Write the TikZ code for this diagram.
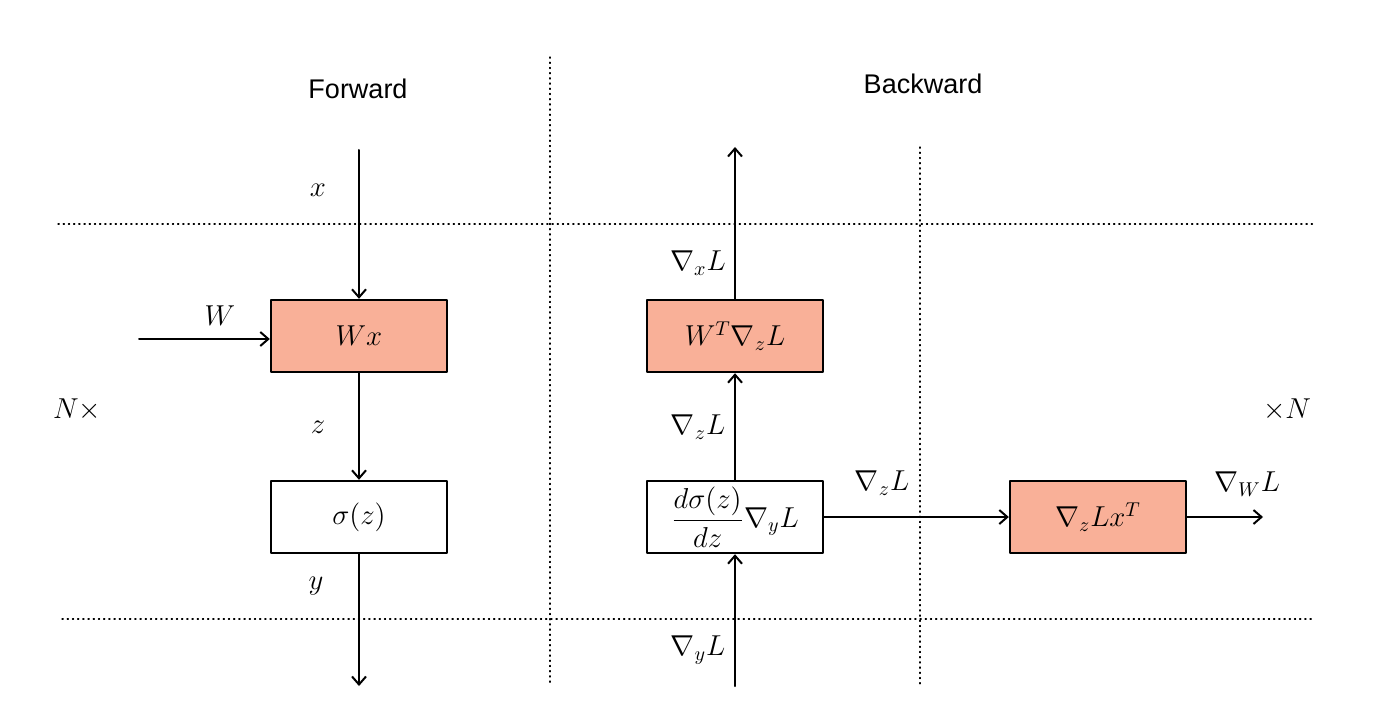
\documentclass[tikz,border=0pt]{standalone}
\usepackage{fontspec}
\newfontfamily\headfont{Liberation Sans}
\usetikzlibrary{arrows.meta}
\definecolor{boxSalmon}{HTML}{F9B098}
\definecolor{lineInk}{HTML}{000000}

\begin{document}
\begin{tikzpicture}[x=0.5pt,y=-0.5pt,>={Straight Barb[length=4pt,width=7pt]},line cap=round,line join=round]
\useasboundingbox[fill=white] (0,0) rectangle (1400,727);
\tikzset{wire/.style={draw=lineInk,line width=1pt},grid/.style={draw=lineInk,line width=0.6pt,dotted},lbl/.style={font=\fontsize{14}{17}\selectfont},box/.style={lbl,draw=lineInk,line width=1.2pt,minimum width=88pt,minimum height=36pt,inner sep=0pt},hot/.style={box,fill=boxSalmon},head/.style={font=\headfont\fontsize{13.5}{16}\selectfont}}
% dotted frame
\draw[grid] (550,57) -- (550,685); \draw[grid] (920,147) -- (920,685);
\draw[grid] (58,224) -- (1315,224); \draw[grid] (62,619) -- (1315,619);
\node[head] (fwd) at (358,89) {Forward};
\node[head] (bwd) at (923,84) {Backward};
\node[lbl] (nleft) at (77,410) {$N\times$};
\node[lbl] (nright) at (1287,410) {$\times N$};
% forward pass
\node[hot] (wx) at (359,336) {$W x$};
\node[box] (sig) at (359,517) {$\sigma(z)$};
\coordinate (xin) at (359,150); \coordinate (win) at (139,339); \coordinate (yout) at (359,686);
\draw[wire,->] (xin) -- (wx.north);
\draw[wire,->] (win) -- (win -| wx.west);
\draw[wire,->] (wx.south) -- (sig.north);
\draw[wire,->] (sig.south) -- (yout);
\node[lbl] (xl) at (318,190) {$x$}; \node[lbl] (wl) at (220,316) {$W$};
\node[lbl] (zl) at (318,427) {$z$}; \node[lbl] (yl) at (316,586) {$y$};
% backward pass
\node[hot] (wtz) at (735,336) {$W^T\nabla_z L$};
\node[box] (dsig) at (735,517) {$\displaystyle\frac{d\sigma(z)}{dz}\nabla_y L$};
\node[hot] (gw) at (1098,517) {$\nabla_z L x^T$};
\coordinate (gxout) at (735,147); \coordinate (gyin) at (735,686); \coordinate (gwout) at (1263,517);
\draw[wire,->] (wtz.north) -- (gxout);
\draw[wire,->] (dsig.north) -- (wtz.south);
\draw[wire,->] (gyin) -- (dsig.south);
\draw[wire,->] (dsig.east) -- (gw.west);
\draw[wire,->] (gw.east) -- (gwout);
\node[lbl] (gxl) at (698,263) {$\nabla_x L$}; \node[lbl] (gzl) at (698,427) {$\nabla_z L$};
\node[lbl] (gyl) at (698,650) {$\nabla_y L$}; \node[lbl] (gzr) at (882,483) {$\nabla_z L$};
\node[lbl] (gwl) at (1247,484) {$\nabla_W L$};
\end{tikzpicture}
\end{document}
